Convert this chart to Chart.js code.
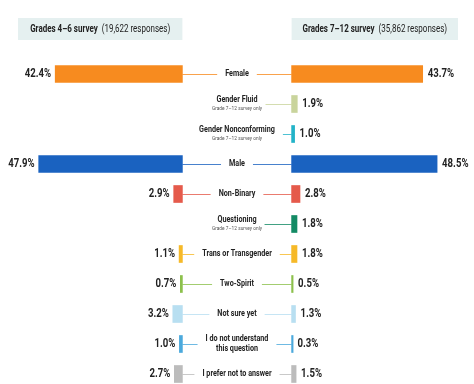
<!DOCTYPE html>
<html>
<head>
<meta charset="utf-8">
<script src="https://cdn.jsdelivr.net/npm/chart.js@4/dist/chart.umd.min.js"></script>
<style>
html,body{margin:0;padding:0;background:#fff;}
#wrap{position:relative;width:474px;height:384px;}
</style>
</head>
<body>
<div id="wrap"><canvas id="c" width="474" height="384"></canvas></div>
<script>
const categories = ['Female','Gender Fluid','Gender Nonconforming','Male','Non-Binary','Questioning','Trans or Transgender','Two-Spirit','Not sure yet',['I do not understand','this question'],'I prefer not to answer'];
const subNotes = [null,'Grade 7–12 survey only','Grade 7–12 survey only',null,null,'Grade 7–12 survey only',null,null,null,null,null];
const grades46 = [42.4, null, null, 47.9, 2.9, null, 1.1, 0.7, 3.2, 1.0, 2.7];
const grades712 = [43.7, 1.9, 1.0, 48.5, 2.8, 1.8, 1.8, 0.5, 1.3, 0.3, 1.5];
const colors = ['#f78b1f','#c9d49c','#22b3c8','#1a62c0','#e55a4b','#138a64','#f6b928','#8cc04c','#b8dff1','#4ba9dc','#bcbcbc'];
const headerLeft = ['Grades 4–6 survey','(19,622 responses)'];
const headerRight = ['Grades 7–12 survey','(35,862 responses)'];

const FONT = 'Roboto, "Liberation Sans", sans-serif';
const SX = 0.8; // horizontal condensing of text
const OFF = 18.2; // half gap in value units
const leftData = grades46.map(v => v == null ? null : [-OFF - v, -OFF]);
const rightData = grades712.map(v => v == null ? null : [OFF, OFF + v]);

function tw(ctx, font, s) { ctx.font = font; return ctx.measureText(s).width * SX; }
function txt(ctx, font, s, x, y, align, color) {
  ctx.save();
  ctx.font = font;
  ctx.fillStyle = color || '#222';
  ctx.textAlign = align;
  ctx.textBaseline = 'middle';
  ctx.translate(x, y);
  ctx.scale(SX, 1);
  ctx.fillText(s, 0, 0);
  ctx.restore();
}

const overlay = {
  id: 'overlay',
  afterDatasetsDraw(chart) {
    const ctx = chart.ctx;
    const xs = chart.scales.x, ys = chart.scales.y;
    const cx = xs.getPixelForValue(0);
    const lEnd = xs.getPixelForValue(-OFF), rStart = xs.getPixelForValue(OFF);
    ctx.save();
    const hb = 'bold 10px ' + FONT, hn = '10px ' + FONT;
    const drawHeader = (x0, x1, parts) => {
      ctx.fillStyle = '#e5f0f0';
      ctx.fillRect(x0, 18, x1 - x0, 22);
      const w1 = tw(ctx, hb, parts[0] + '  ');
      const w2 = tw(ctx, hn, parts[1]);
      const sx = (x0 + x1) / 2 - (w1 + w2) / 2;
      txt(ctx, hb, parts[0], sx, 29.5, 'left');
      txt(ctx, hn, parts[1], sx + w1, 29.5, 'left');
    };
    drawHeader(18, lEnd, headerLeft);
    drawHeader(rStart, 458, headerRight);

    const lf = 'bold 9px ' + FONT, sf = '6px ' + FONT, vf = 'bold 12px ' + FONT;
    categories.forEach((cat, i) => {
      const y = ys.getPixelForValue(i);
      const lines = Array.isArray(cat) ? cat : [cat];
      const w = Math.max(...lines.map(l => tw(ctx, lf, l)));
      if (subNotes[i]) {
        txt(ctx, lf, lines[0], cx, y - 4, 'center');
        txt(ctx, sf, subNotes[i], cx, y + 4.5, 'center', '#555');
      } else if (lines.length > 1) {
        lines.forEach((l, k) => txt(ctx, lf, l, cx, y + (k - (lines.length - 1) / 2) * 10, 'center'));
      } else {
        txt(ctx, lf, lines[0], cx, y, 'center');
      }
      ctx.strokeStyle = colors[i];
      ctx.globalAlpha = 0.8;
      ctx.lineWidth = 1;
      ctx.beginPath();
      const ly = Math.round(y) + 0.5;
      if (grades46[i] != null) {
        ctx.moveTo(lEnd, ly);
        ctx.lineTo(cx - w / 2 - 8, ly);
      }
      if (grades712[i] != null) {
        ctx.moveTo(cx + w / 2 + 8, ly);
        ctx.lineTo(rStart, ly);
      }
      ctx.stroke();
      ctx.globalAlpha = 1;
      if (grades46[i] != null) {
        txt(ctx, vf, grades46[i].toFixed(1) + '%', xs.getPixelForValue(-OFF - grades46[i]) - 4, y, 'right');
      }
      if (grades712[i] != null) {
        txt(ctx, vf, grades712[i].toFixed(1) + '%', xs.getPixelForValue(OFF + grades712[i]) + 5, y, 'left');
      }
    });
    ctx.restore();
  }
};

new Chart(document.getElementById('c'), {
  type: 'bar',
  data: {
    labels: categories,
    datasets: [
      { label: 'Grades 4–6', data: leftData, backgroundColor: colors, barThickness: 17, minBarLength: 1.5, clip: false, grouped: false },
      { label: 'Grades 7–12', data: rightData, backgroundColor: colors, barThickness: 17, minBarLength: 1.5, clip: false, grouped: false }
    ]
  },
  options: {
    indexAxis: 'y',
    responsive: false,
    animation: false,
    layout: { padding: { top: 74, bottom: 10, left: 0, right: 0 } },
    plugins: { legend: { display: false }, tooltip: { enabled: false } },
    scales: {
      x: { type: 'linear', min: -79, max: 79, display: false },
      y: { type: 'category', offset: false, display: false }
    }
  },
  plugins: [overlay]
});
</script>
</body>
</html>
